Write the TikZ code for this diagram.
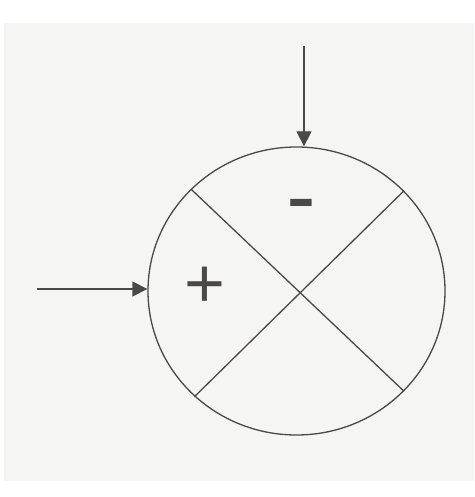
\documentclass[tikz,border=0pt]{standalone}
\usepackage{fontspec}
\usetikzlibrary{arrows.meta,shapes.geometric}
\definecolor{ink}{HTML}{4A4848}
\definecolor{paper}{HTML}{F5F5F3}
\begin{document}
\begin{tikzpicture}[x=1pt,y=-1pt,
  wire/.style={draw=ink,line width=1.3pt},
  feed/.style={wire,-{Triangle[length=15pt,width=15pt]}},
  sign/.style={text=ink,inner sep=0pt}]
\useasboundingbox (0,0) rectangle (474,497);
\fill[white] (0,0) rectangle (474,497);
\fill[paper] (4,23) rectangle (474,481);
\node[ellipse,wire,minimum width=297pt,minimum height=288pt,inner sep=0pt] (sum) at (296.5,291) {};
\draw[wire] (sum.136) -- (sum.-43);
\draw[wire] (sum.43.5) -- (sum.-134);
\coordinate (topin) at (304,46);
\coordinate (leftin) at (37,289);
\draw[feed] (topin) -- (topin |- sum.north);
\draw[feed] (leftin) -- (leftin -| sum.west);
\node[sign,font=\fontspec{Liberation Sans}\fontsize{70}{70}\selectfont] (plus) at (205,287) {+};
\node[sign,font=\fontspec{Liberation Sans Bold}\fontsize{60}{60}\selectfont,xscale=1.4] (minus) at (301,209) {-};
\end{tikzpicture}
\end{document}
